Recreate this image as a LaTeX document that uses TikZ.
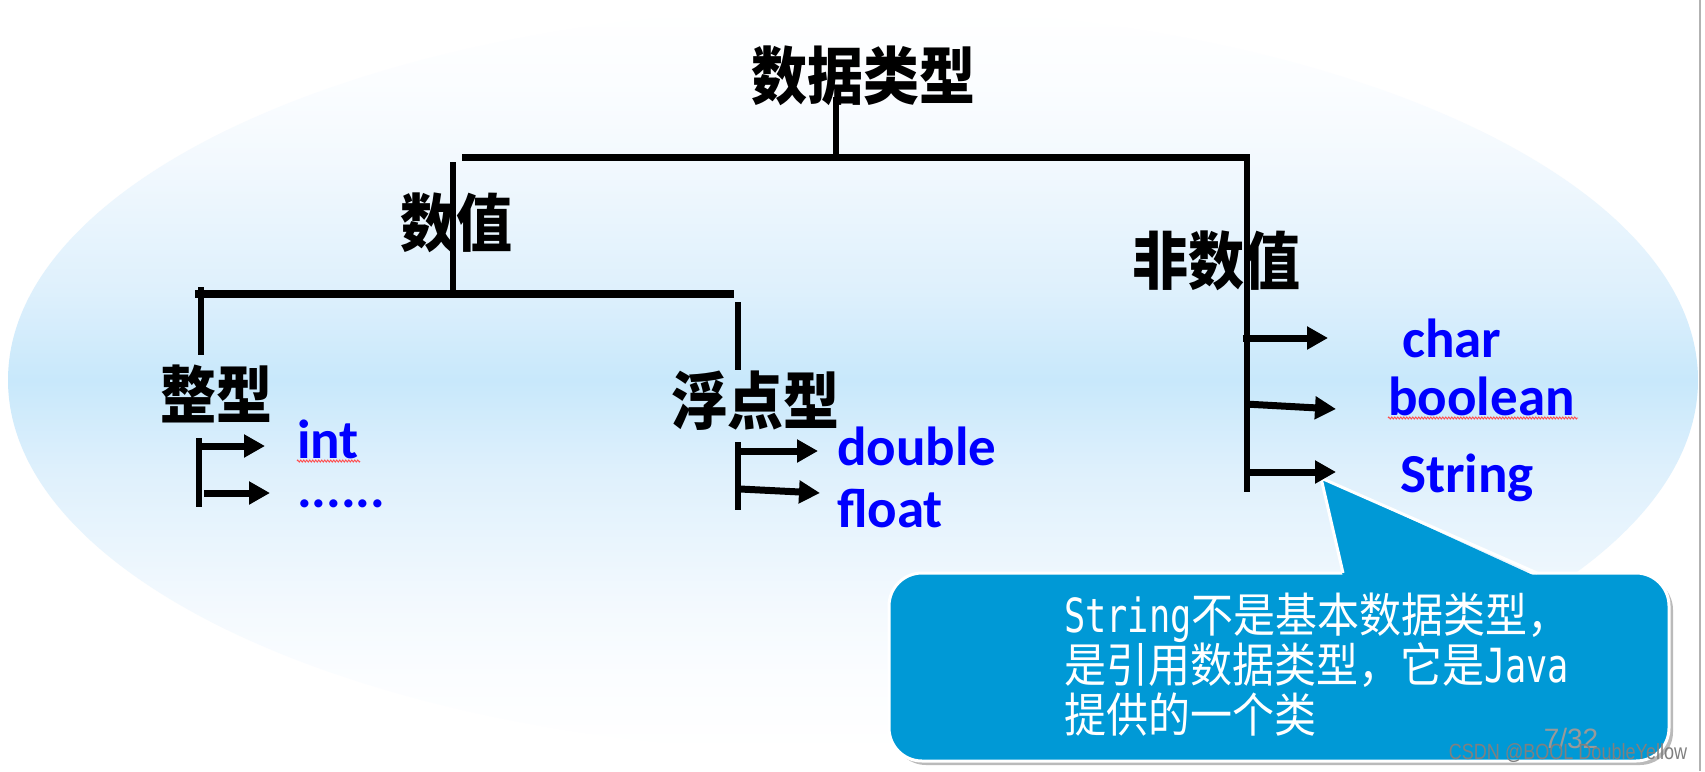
\documentclass[tikz,border=0pt]{standalone}
\usepackage{fontspec}
\usetikzlibrary{arrows.meta,shadows,decorations.pathmorphing}
\newfontfamily\cjk{Noto Sans CJK SC}
\newfontfamily\latb{Carlito}
\newfontfamily\monof{DejaVu Sans Mono}
\newfontfamily\arialf{Liberation Sans}
\definecolor{ellblue}{RGB}{200,232,251}
\definecolor{ellc1}{RGB}{251,253,255}
\definecolor{ellc2}{RGB}{243,249,254}
\definecolor{ellc3}{RGB}{222,240,252}
\definecolor{callblue}{RGB}{0,153,214}
\definecolor{txtblue}{RGB}{0,0,255}
\pgfdeclareverticalshading{ellshade}{100bp}{color(0bp)=(white); color(25bp)=(white);
  color(30bp)=(ellc1); color(35bp)=(ellc2); color(44bp)=(ellc3); color(50bp)=(ellblue);
  color(56bp)=(ellc3); color(65bp)=(ellc2); color(70bp)=(ellc1); color(75bp)=(white); color(100bp)=(white)}
\newcommand{\tallcjk}[1]{\scalebox{1}[1.12]{#1}}
\begin{document}
\begin{tikzpicture}[x=1pt,y=-1pt,
  cjklab/.style={inner sep=0pt, font=\cjk\bfseries\fontsize{56}{60}\selectfont},
  typelab/.style={inner sep=0pt, anchor=base west, text=txtblue, font=\latb\bfseries\fontsize{55}{60}\selectfont},
  notetext/.style={inner sep=0pt, anchor=base west, text=white, font=\cjk\fontsize{42}{50}\selectfont},
  bar/.style={line width=6pt},
  thickbar/.style={line width=7.5pt},
  arr/.style={line width=7pt, -{Triangle[length=21pt,width=22pt]}},
  squiggle/.style={draw=red!70, line width=0.9pt, decorate, decoration={zigzag,segment length=3pt,amplitude=1pt}},
  calloutbox/.style={fill=callblue, draw=white, line width=3pt, rounded corners=33pt,
    drop shadow={shadow xshift=4pt, shadow yshift=-4pt, opacity=0.45, fill=black!60}},
]
\useasboundingbox (0,0) rectangle (1705,771);
\fill[white] (0,0) rectangle (1705,771);
% background ellipse
\shade[shading=ellshade] (853,380) ellipse [x radius=845pt, y radius=372pt];
% slide border
\draw[black!30, line width=1.5pt] (1700,0) -- (1700,771);

% callout shape
\path[calloutbox] (889,573) rectangle (1669,761);
\coordinate (tip) at (1321,478);
\coordinate (baseL) at (1343,573);
\coordinate (baseR) at (1537,573);
\fill[callblue] (tip) -- ([yshift=-4pt]baseL) -- ([yshift=-4pt]baseR) -- cycle;
\draw[white, line width=3pt, line join=miter] (baseL) -- (tip) -- (baseR);

% tree coordinates
\coordinate (rootfoot) at (836,97);
\coordinate (rootjoin) at (836,157.5);
\coordinate (barL) at (462,157.5);
\coordinate (barR) at (1250,157.5);
\coordinate (numtop) at (453,162);
\coordinate (numbot) at (453,294);
\coordinate (nontop) at (1247,157.5);
\coordinate (nonbot) at (1247,492);
\coordinate (bar2L) at (195,294);
\coordinate (bar2R) at (734,294);
\coordinate (inttop) at (201,287);
\coordinate (intbot) at (201,355);
\coordinate (flttop) at (738,302);
\coordinate (fltbot) at (738,370);
% brackets
\coordinate (ibT) at (199,438);
\coordinate (ibB) at (199,507);
\coordinate (ia1) at (199,446);
\coordinate (ia1e) at (265,446);
\coordinate (ia2) at (204,493);
\coordinate (ia2e) at (270,493);
\coordinate (fbT) at (738,442);
\coordinate (fbB) at (738,510);
\coordinate (fa1) at (738,451);
\coordinate (fa1e) at (818,451);
\coordinate (fa2) at (740,489);
\coordinate (fa2e) at (820,493);
\coordinate (na1) at (1243,338);
\coordinate (na1e) at (1328,338);
\coordinate (na2) at (1245,404);
\coordinate (na2e) at (1336,409);
\coordinate (na3) at (1245,472);
\coordinate (na3e) at (1336,472);

% tree lines
\draw[bar] (rootfoot) -- (rootjoin);
\draw[thickbar] (barL) -- (barR);
\draw[bar] (numtop) -- (numbot);
\draw[bar] (nontop) -- (nonbot);
\draw[thickbar] (bar2L) -- (bar2R);
\draw[bar] (inttop) -- (intbot);
\draw[bar] (flttop) -- (fltbot);
\draw[bar] (ibT) -- (ibB);
\draw[bar] (fbT) -- (fbB);
\draw[arr] (ia1) -- (ia1e);
\draw[arr] (ia2) -- (ia2e);
\draw[arr] (fa1) -- (fa1e);
\draw[arr] (fa2) -- (fa2e);
\draw[arr] (na1) -- (na1e);
\draw[arr] (na2) -- (na2e);
\draw[arr] (na3) -- (na3e);

% labels
\node[cjklab] (root) at (863,76) {\tallcjk{数据类型}};
\node[cjklab] (num) at (456,223) {\tallcjk{数值}};
\node[cjklab] (non) at (1216,261) {\tallcjk{非数值}};
\node[cjklab] (intg) at (216,394) {\tallcjk{整型}};
\node[cjklab] (flt) at (755,401) {\tallcjk{浮点型}};

\node[typelab] (int) at (297,458) {int};
\node[typelab] (dots) at (297,507) {......};
\node[typelab] (double) at (837,465) {double};
\node[typelab] (float) at (837,527) {float};
\node[typelab] (char) at (1402,357) {char};
\node[typelab] (bool) at (1388,415) {boolean};
\node[typelab] (str) at (1400,492) {String};

\draw[squiggle] (297,461) -- (360,461);
\draw[squiggle] (1388,418) -- (1578,418);

% note text
\node[notetext] (note1) at (1064,632) {\tallcjk{\scalebox{0.84}[1]{\monof String}不是基本数据类型，}};
\node[notetext] (note2) at (1064,682) {\tallcjk{是引用数据类型，它是\scalebox{0.84}[1]{\monof Java}}};
\node[notetext] (note3) at (1064,732) {\tallcjk{提供的一个类}};

% watermarks
\node[inner sep=0pt, text=black!40, font=\arialf\fontsize{28}{30}\selectfont] (page) at (1571,738) {7/32};
\node[inner sep=0pt, text=black!50, font=\arialf\fontsize{22}{24}\selectfont] (csdn) at (1568,753) {\scalebox{0.82}[1]{CSDN @BOOL DoubleYellow}};
\end{tikzpicture}
\end{document}
